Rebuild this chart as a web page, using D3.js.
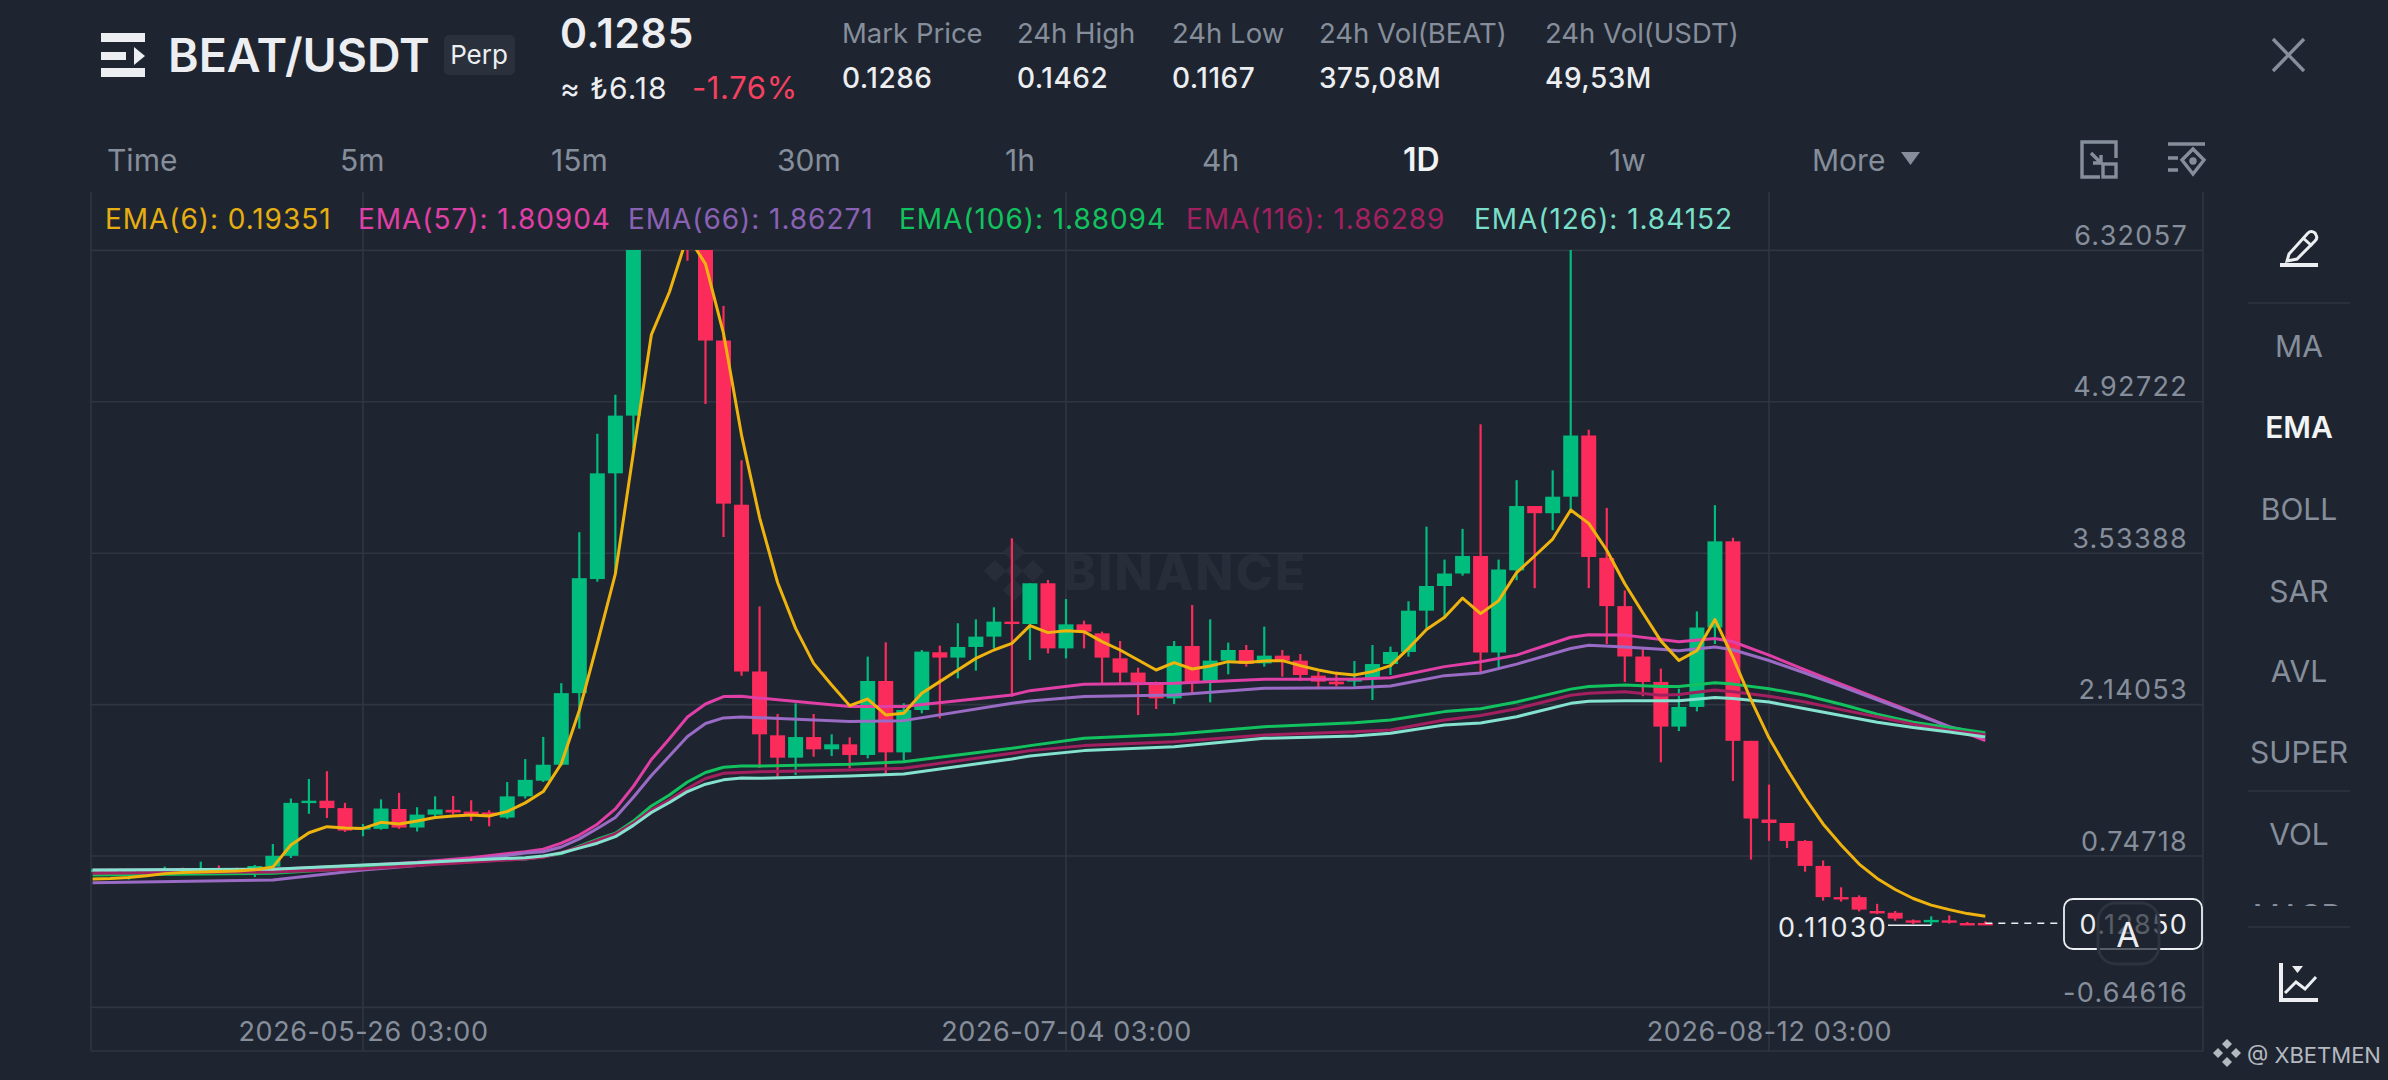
<!DOCTYPE html>
<html><head><meta charset="utf-8">
<script src="https://cdnjs.cloudflare.com/ajax/libs/d3/7.9.0/d3.min.js"></script>
<style>
html,body{margin:0;padding:0;background:#1e2530;overflow:hidden}
svg{display:block}
text{font-family:Inter,"Noto Sans",sans-serif}
</style></head><body>
<svg id="c" width="2388" height="1080"></svg>
<script>
// ---- candles: daily sessions, index 0 = 2026-05-26 ----
const days = d3.range(-15, 91);
const opens = [.62,.62,.62,.62,.62,.63,.625,.635,.625,.63,.649,.749,1.24,1.256,1.188,.997,.997,1.18,1.009,1.128,1.172,1.156,1.148,1.101,1.296,1.44,1.587,2.246,3.296,4.269,4.8,7.0,8.0,8.5,8.2,5.491,3.98,2.445,1.858,1.652,1.842,1.729,1.775,1.677,2.358,1.701,2.091,2.622,2.573,2.671,2.766,2.904,2.882,3.257,2.658,2.879,2.796,2.566,2.435,2.346,2.198,2.68,2.358,2.545,2.643,2.52,2.591,2.545,2.407,2.352,2.352,2.376,2.514,2.625,3.005,3.232,3.347,3.508,2.62,3.376,3.968,3.902,4.054,4.617,3.491,3.047,2.583,2.349,1.938,2.119,2.85,3.643,1.807,1.083,1.051,.886,.656,.369,.369,.241,.225,.155,.143,.155,.13,.1308];
const closes = [.62,.62,.62,.625,.63,.625,.635,.625,.62,.655,.749,1.236,1.256,1.188,.981,1.013,1.184,1.009,1.128,1.176,1.148,1.14,1.116,1.296,1.448,1.587,2.246,3.304,4.269,4.8,7.0,8.0,8.5,8.2,5.491,3.99,2.445,1.867,1.652,1.842,1.729,1.775,1.677,2.358,1.701,2.091,2.628,2.573,2.671,2.766,2.904,2.882,3.257,2.658,2.879,2.812,2.573,2.435,2.346,2.198,2.68,2.342,2.545,2.643,2.514,2.591,2.545,2.413,2.352,2.327,2.376,2.514,2.625,3.005,3.232,3.347,3.508,2.62,3.384,3.968,3.902,4.054,4.617,3.499,3.047,2.583,2.349,1.938,2.119,2.85,3.643,1.807,1.092,1.051,.886,.656,.369,.348,.254,.225,.171,.134,.159,.143,.118,.1285];
const highs = [.63,.63,.63,.63,.65,.64,.695,.66,.64,.665,.857,1.276,1.456,1.528,1.236,1.041,1.268,1.328,1.196,1.296,1.3,1.26,1.168,1.428,1.639,1.843,2.338,3.727,4.633,4.992,7.4,8.4,8.9,9.0,8.5,5.81,4.389,3.044,2.054,2.152,2.054,1.867,1.839,2.582,2.714,2.152,2.643,2.683,2.889,2.925,3.036,3.671,3.257,3.287,3.112,2.913,2.812,2.726,2.48,2.352,2.726,3.057,2.925,2.711,2.689,2.858,2.643,2.606,2.444,2.444,2.542,2.689,2.674,3.091,3.778,3.475,3.758,4.72,3.475,4.206,3.968,4.296,6.45,4.67,3.951,3.191,2.657,2.472,2.287,2.998,3.976,3.676,1.807,1.404,1.051,.894,.706,.459,.385,.307,.241,.163,.192,.2,.14,.1462];
const lows = [.6,.6,.53,.61,.61,.61,.61,.6,.6,.554,.645,.729,1.136,1.097,.969,.929,.989,.997,.973,1.108,1.128,1.069,1.021,1.089,1.276,1.428,1.579,1.919,3.272,3.343,4.501,6.6,6.6,6.225,4.908,3.683,2.406,1.556,1.471,1.493,1.661,1.668,1.554,1.646,1.502,1.625,2.06,2.014,2.382,2.453,2.658,2.214,2.551,2.612,2.566,2.658,2.336,2.342,2.045,2.1,2.146,2.229,2.161,2.419,2.49,2.49,2.398,2.358,2.299,2.306,2.306,2.183,2.413,2.582,2.843,2.932,3.327,2.439,2.464,3.286,3.212,3.746,3.931,3.212,2.698,2.349,2.218,1.61,1.897,2.078,2.698,1.437,.714,.886,.821,.603,.336,.328,.237,.212,.151,.122,.1103,.126,.115,.1167];
const ema6 = [.535,.54,.55,.565,.585,.595,.6,.605,.61,.62,.645,.849,.961,1.017,1.005,1.001,1.057,1.041,1.069,1.101,1.116,1.124,1.116,1.156,1.236,1.34,1.596,2.086,2.705,3.343,4.461,5.546,5.938,6.456,6.197,5.558,4.621,3.862,3.264,2.842,2.52,2.321,2.131,2.192,2.045,2.06,2.244,2.352,2.459,2.566,2.643,2.704,2.867,2.803,2.821,2.812,2.72,2.643,2.551,2.459,2.527,2.468,2.496,2.536,2.527,2.542,2.545,2.499,2.459,2.428,2.413,2.444,2.499,2.658,2.832,2.945,3.121,2.978,3.097,3.356,3.508,3.664,3.931,3.808,3.561,3.253,2.986,2.727,2.546,2.637,2.924,2.575,2.185,1.835,1.548,1.281,1.042,.849,.673,.541,.439,.356,.295,.254,.217,.19351];
// ---- slow EMAs, read at these session indices ----
const slowDays = [-15,-5,0,3,6,9,10,11,12,13,14,15,16,17,18,19,20,21,22,27,30,36,37,40,45,50,55,57,60,62,64,67,68,70,72,73,75,76,78,80,82,84,86,88,90];
const ema57 = [.615,.625,.66,.69,.732,.787,.81,.865,.94,1.04,1.18,1.388,1.635,1.827,2.027,2.146,2.214,2.218,2.2,2.122,2.122,2.229,2.269,2.327,2.336,2.373,2.373,2.388,2.49,2.534,2.596,2.76,2.784,2.78,2.739,2.719,2.748,2.719,2.596,2.46,2.329,2.201,2.07,1.938,1.80904];
const ema66 = [.502,.526,.619,.66,.71,.774,.787,.83,.905,1.0,1.101,1.288,1.488,1.667,1.847,1.967,2.018,2.026,2.02,1.984,1.993,2.152,2.174,2.214,2.229,2.29,2.296,2.312,2.407,2.431,2.513,2.657,2.686,2.67,2.649,2.637,2.67,2.645,2.546,2.431,2.308,2.185,2.061,1.938,1.86271];
const ema106 = [.572,.588,.64,.665,.7,.72,.74,.769,.837,.901,.957,1.069,1.208,1.308,1.428,1.516,1.564,1.576,1.575,1.591,1.615,1.738,1.763,1.83,1.867,1.937,1.974,1.999,2.076,2.103,2.164,2.283,2.308,2.32,2.308,2.308,2.341,2.329,2.287,2.226,2.144,2.053,1.979,1.93,1.88094];
const ema116 = [.588,.6,.63,.66,.69,.72,.735,.78,.83,.89,.95,1.05,1.17,1.265,1.368,1.46,1.508,1.516,1.523,1.539,1.554,1.692,1.717,1.763,1.799,1.861,1.891,1.907,1.999,2.041,2.103,2.226,2.246,2.259,2.226,2.234,2.275,2.259,2.218,2.164,2.094,2.029,1.959,1.905,1.86289];
const ema126 = [.618,.625,.664,.686,.71,.732,.747,.775,.82,.865,.925,1.029,1.148,1.24,1.34,1.408,1.448,1.464,1.462,1.483,1.502,1.64,1.668,1.717,1.753,1.83,1.852,1.876,1.953,1.971,2.029,2.152,2.172,2.176,2.176,2.176,2.205,2.197,2.164,2.102,2.041,1.979,1.93,1.889,1.84152];
// ---- axes ----
const priceTicks = [6.32057,4.92722,3.53388,2.14053,.74718,-.64616];
const priceLabels = ["6.32057","4.92722","3.53388","2.14053","0.74718","-0.64616"];
const dateTicks = [0,39,78];
const dateLabels = ["2026-05-26 03:00","2026-07-04 03:00","2026-08-12 03:00"];
const lastPrice = .1285, lowPoint = .1103, lowDay = 87;
// ---- texts ----
const legendNames = ["EMA(6): 0.19351","EMA(57): 1.80904","EMA(66): 1.86271","EMA(106): 1.88094","EMA(116): 1.86289","EMA(126): 1.84152"];
const legendColors = ["#e6ae10","#e03fa6","#8a62b4","#12c25e","#a32060","#79dfc8"];
const legendX = [105,358,628,899,1186,1474];
const tabNames = ["Time","5m","15m","30m","1h","4h","1D","1w","More"];
const tabX = [107,340,551,777,1005,1202,1403,1609,1812];
const statNames = ["Mark Price","24h High","24h Low","24h Vol(BEAT)","24h Vol(USDT)"];
const statValues = ["0.1286","0.1462","0.1167","375,08M","49,53M"];
const statX = [842,1017,1172,1319,1545];
const sideNames = ["MA","EMA","BOLL","SAR","AVL","SUPER","VOL"];
const sideY = [357,438,520,602,682,763,845];

const BG="#1e2530", GRID="#2f3641", UP="#00bd7d", DOWN="#fb2c5c", MUTED="#868e9b", LIGHT="#eceef1";
const svg = d3.select("#c");
const x = d3.scaleLinear().domain([0,78]).range([363,1769]);
const y = d3.scaleLinear().domain([6.32057,-.64616]).range([250.4,1007.4]);

function T(g,s,px,py,size,fill,opt={}){
  return g.append("text").attr("x",px).attr("y",py).attr("font-size",size).attr("fill",fill)
    .attr("font-weight",opt.w||400).attr("text-anchor",opt.a||"start")
    .attr("letter-spacing",opt.ls||null).text(s);
}
svg.append("rect").attr("width",2388).attr("height",1080).attr("fill",BG);

const defs = svg.append("defs");
defs.append("clipPath").attr("id","plot").append("rect").attr("x",91).attr("y",250).attr("width",2111).attr("height",801);
defs.append("clipPath").attr("id","peek").append("rect").attr("x",2240).attr("y",900).attr("width",120).attr("height",6);

// frame and grid
const grid = svg.append("g").attr("stroke",GRID).attr("stroke-width",1.6);
[91,2203].forEach(v=>grid.append("line").attr("x1",v).attr("x2",v).attr("y1",192).attr("y2",1051));
grid.append("line").attr("x1",91).attr("x2",2203).attr("y1",1051).attr("y2",1051);
grid.selectAll(".h").data(priceTicks).join("line").attr("x1",91).attr("x2",2203).attr("y1",d=>y(d)).attr("y2",d=>y(d));
grid.selectAll(".v").data(dateTicks).join("line").attr("x1",d=>x(d)).attr("x2",d=>x(d)).attr("y1",192).attr("y2",1051);

// watermark
const wm = svg.append("g").attr("fill","#272e3a");
[[0,-19],[-19,0],[19,0],[0,19],[0,0]].forEach(p=>{
  const r=p[0]===0&&p[1]===0?9:11;
  wm.append("path").attr("d",`M${1014+p[0]} ${571+p[1]-r}l${r} ${r}l${-r} ${r}l${-r} ${-r}z`);
});
T(wm,"BINANCE",1063,590,50,"#272e3a",{w:800,ls:"2"});

// candles
const plot = svg.append("g").attr("clip-path","url(#plot)");
const rows = days.map((d,i)=>({d,o:opens[i],c:closes[i],h:highs[i],l:lows[i]}));
const cg = plot.append("g");
cg.selectAll(".w").data(rows).join("line")
  .attr("x1",r=>x(r.d)).attr("x2",r=>x(r.d)).attr("y1",r=>y(r.h)).attr("y2",r=>y(r.l))
  .attr("stroke",r=>r.c>=r.o?UP:DOWN).attr("stroke-width",2.2);
cg.selectAll(".b").data(rows).join("rect")
  .attr("x",r=>x(r.d)-7.5).attr("width",15)
  .attr("y",r=>y(Math.max(r.o,r.c))).attr("height",r=>Math.max(y(Math.min(r.o,r.c))-y(Math.max(r.o,r.c)),2.4))
  .attr("fill",r=>r.c>=r.o?UP:DOWN);

// lines
const line = d3.line().x(p=>x(p[0])).y(p=>y(p[1]));
[[ema57,"#e03fa6"],[ema66,"#9a6bc4"],[ema106,"#12c25e"],[ema116,"#a32060"],[ema126,"#85e2cf"]].forEach(([vals,col])=>{
  plot.append("path").attr("d",line(slowDays.map((d,i)=>[d,vals[i]]))).attr("fill","none").attr("stroke",col).attr("stroke-width",3).attr("stroke-linejoin","round");
});
plot.append("path").attr("d",line(days.map((d,i)=>[d,ema6[i]]))).attr("fill","none").attr("stroke","#eeb30e").attr("stroke-width",3).attr("stroke-linejoin","round");

// y axis labels, x axis labels via d3 axes
const yAxis = svg.append("g").attr("transform","translate(2188,0)")
  .call(d3.axisLeft(y).tickValues(priceTicks).tickSize(0).tickPadding(0).tickFormat((d,i)=>priceLabels[i]));
yAxis.select(".domain").remove();
yAxis.selectAll("text").attr("font-size",27).attr("fill",MUTED).attr("dy",-6).attr("font-family","Inter").attr("letter-spacing","1.3");
const xAxis = svg.append("g").attr("transform","translate(0,1041)")
  .call(d3.axisBottom(x).tickValues(dateTicks).tickSize(0).tickPadding(0).tickFormat((d,i)=>dateLabels[i]));
xAxis.select(".domain").remove();
xAxis.selectAll("text").attr("font-size",27).attr("fill",MUTED).attr("dy",0).attr("font-family","Inter").attr("letter-spacing","0.6");

// last price and low marker
const ov = svg.append("g");
ov.append("line").attr("x1",x(90)).attr("x2",2064).attr("y1",y(lastPrice)).attr("y2",y(lastPrice)).attr("stroke",LIGHT).attr("stroke-width",1.6).attr("stroke-dasharray","7 6");
ov.append("rect").attr("x",2064).attr("y",899).attr("width",138).attr("height",50).attr("rx",9).attr("fill",BG).attr("stroke",LIGHT).attr("stroke-width",1.8);
T(ov,"0.12850",2188,934,27,LIGHT,{a:"end",ls:"1.3"});
T(ov,"0.11030",1778,937,27,LIGHT,{ls:"2.2"});
ov.append("line").attr("x1",1888).attr("x2",x(lowDay)).attr("y1",y(lowPoint)).attr("y2",y(lowPoint)).attr("stroke",LIGHT).attr("stroke-width",1.6);
ov.append("rect").attr("x",2098).attr("y",903).attr("width",61).attr("height",61).attr("rx",18).attr("fill","rgba(30,37,48,.72)").attr("stroke","#2d3440").attr("stroke-width",3);
T(ov,"A",2128,947,34,LIGHT,{a:"middle"});

// header
const head = svg.append("g");
head.append("g").attr("fill",LIGHT).html(`<rect x="101" y="33" width="44" height="9"/><rect x="101" y="68" width="44" height="9"/><rect x="101" y="52" width="25" height="8"/><path d="M134 47l11 9l-11 9z"/>`);
T(head,"BEAT/USDT",168,72,46.5,LIGHT,{w:600});
head.append("rect").attr("x",444).attr("y",35).attr("width",71).attr("height",40).attr("rx",5).attr("fill","#2a313c");
T(head,"Perp",479,64,26,LIGHT,{a:"middle"});
T(head,"0.1285",560,48,41,LIGHT,{w:600,ls:"0.6"});
T(head,"≈ ₺6.18",560,99,30,LIGHT,{ls:"1"});
T(head,"-1.76%",692,99,31,"#f6405f",{ls:"0.6"});
statNames.forEach((s,i)=>{T(head,s,statX[i],43,27.5,MUTED);T(head,statValues[i],statX[i],88,28,LIGHT,{w:500,ls:"0.5"});});
head.append("path").attr("d","M2273 39L2304 71M2304 39L2273 71").attr("stroke",MUTED).attr("stroke-width",3.4).attr("fill","none");

// tabs
tabNames.forEach((s,i)=>T(head,s,tabX[i],171,s==="1D"?32:30,s==="1D"?"#f1f3f5":MUTED,{w:s==="1D"?600:400}));
head.append("path").attr("d","M1901 152h19l-9.5 13z").attr("fill",MUTED);
head.append("g").attr("fill","none").attr("stroke",MUTED).attr("stroke-width",3.4).html(`<path d="M2107 142H2082V177H2100M2107 142H2116V158"/><rect x="2103" y="164" width="13" height="13"/><path d="M2091 153l10 10M2101 155v8h-8"/><path d="M2168 144H2205M2168 158H2178M2168 170H2178"/><path d="M2193 149l11 11l-11 14l-11-14z"/><circle cx="2193" cy="161" r="2"/>`);

// legend
legendNames.forEach((s,i)=>T(head,s,legendX[i],229,28,legendColors[i],{ls:"0.95"}));

// side panel
const side = svg.append("g");
sideNames.forEach((s,i)=>T(side,s,2299,sideY[i],30,s==="EMA"?"#f1f3f5":MUTED,{a:"middle",w:s==="EMA"?600:400}));
T(side.append("g").attr("clip-path","url(#peek)"),"MACD",2298,926,30,MUTED,{a:"middle"});
[303,791,927].forEach(v=>side.append("line").attr("x1",2248).attr("x2",2350).attr("y1",v).attr("y2",v).attr("stroke",GRID).attr("stroke-width",1.4));
side.append("g").attr("fill","none").attr("stroke",LIGHT).attr("stroke-width",3).html(`<path d="M2289 254L2308 233Q2311 230 2315 233L2316 235Q2318 238 2315 241L2297 259L2287 261z"/><path d="M2303 238l9 8"/><path d="M2280 265H2318" stroke-width="4"/>`);
side.append("g").attr("fill","none").attr("stroke",LIGHT).attr("stroke-width",3).html(`<path d="M2281 963V1000H2318" stroke-width="4"/><path d="M2285 993L2296 982L2305 989L2316 977"/><path d="M2292 966h11l-5.5 7z" fill="${LIGHT}" stroke="none"/>`);

// credit
const cr = svg.append("g").attr("fill","#b4b9c0");
[[0,-9],[-9,0],[9,0],[0,9]].forEach(p=>cr.append("path").attr("d",`M${2227+p[0]} ${1053+p[1]-5}l5 5l-5 5l-5 -5z`));
T(cr,"@ XBETMEN",2247,1063,22,"#b4b9c0");
</script>
</body></html>
